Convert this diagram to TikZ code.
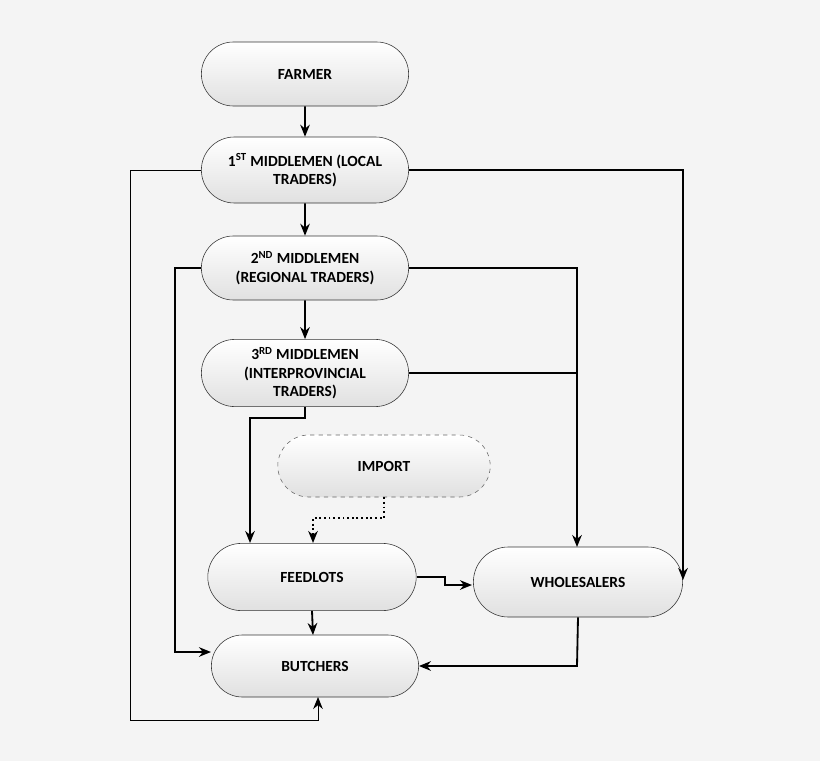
\documentclass[tikz,border=0pt]{standalone}
\usepackage{fontspec}
\setmainfont{Carlito}
\usetikzlibrary{positioning,arrows.meta,shapes.misc}
\tikzset{
		>={Stealth[length=3mm,width=2.4mm]}
	}
\definecolor{bgcol}{HTML}{F4F4F4}
\begin{document}
\begin{tikzpicture}[x=0.025cm, y=-0.025cm,
					stage/.style={rounded rectangle, draw=black!80, thin, top color=white, bottom color=black!12, minimum width=5.25cm, minimum height=1.6cm, align=center, font=\bfseries\fontsize{11}{13}\selectfont, inner sep=1pt},
					flow/.style={->, line width=1.3pt},
					thinflow/.style={->, line width=0.7pt}]
	\fill[bgcol] (0,0) rectangle (820,761);
	\node[stage] (farmer) at (305,74) {FARMER};
	\node[stage, minimum height=1.65cm] (first) at (305,170) {1\textsuperscript{ST} MIDDLEMEN (LOCAL\\TRADERS)};
	\node[stage] (second) at (305,268) {2\textsuperscript{ND} MIDDLEMEN\\(REGIONAL TRADERS)};
	\node[stage, minimum height=1.68cm] (third) at (305,373) {3\textsuperscript{RD} MIDDLEMEN\\(INTERPROVINCIAL\\TRADERS)};
	\node[stage, dashed, draw=black!60, minimum width=5.38cm, minimum height=1.55cm] (import) at (384,466) {IMPORT};
	\node[stage, minimum width=5.28cm, minimum height=1.68cm] (feedlots) at (312,577) {FEEDLOTS};
	\node[stage, minimum width=5.3cm, minimum height=1.75cm] (whole) at (578,582) {WHOLESALERS};
	\node[stage, minimum height=1.55cm] (butchers) at (315,666) {BUTCHERS};
	% main chain
	\draw[flow] (farmer) -- (first);
	\draw[flow] (first) -- (second);
	\draw[flow] (second) -- (third);
	% local traders
	\draw[thinflow] (first.west) -- (130,170) -- (130,720) -- (318,720) -- (318,697);
	\draw[flow] (first.east) -- (683,170) -- (683,580);
	% regional traders
	\draw[flow] (second.west) -- (175,268) -- (175,652) -- (211,652);
	\draw[flow] (second.east) -- (577,268) -- (577,547);
	\draw[line width=1.3pt] (third.east) -- (577,373);
	\draw[flow] (third.south) -- (305,418) -- (250,418) -- (250,543);
	% import
	\draw[->, line width=1.3pt, dotted] (import.south) -- (384,518) -- (313,518) -- (313,543);
	% lower part
	\draw[flow] (feedlots.east) -- (445,577) -- (445,585) -- (472,585);
	\draw[flow] (feedlots.south) -- (313,635);
	\draw[flow] (whole.south) -- (577,666) -- (butchers.east);
\end{tikzpicture}
\end{document}
